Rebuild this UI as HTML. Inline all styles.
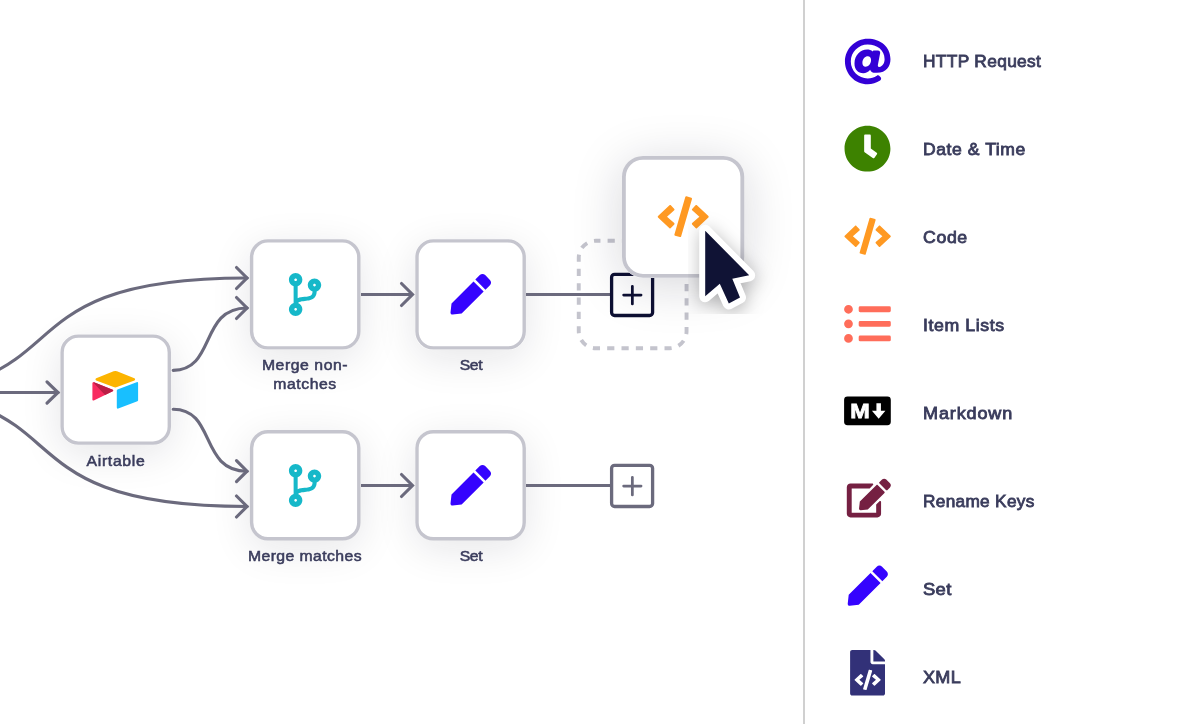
<!DOCTYPE html>
<html lang="en">
<head>
<meta charset="utf-8">
<title>Workflow</title>
<style>
  html,body{margin:0;padding:0;}
  body{width:1200px;height:724px;position:relative;overflow:hidden;background:#fff;
    font-family:"Liberation Sans",sans-serif;color:#3a3c5c;}
  .abs{position:absolute;}
  .node{position:absolute;box-sizing:border-box;width:110.600px;height:110.400px;
    border-radius:18px;background:#fff;box-shadow:0 9px 40px rgba(20,20,40,0.105);}
  .node.big{width:122.200px;height:121.800px;border-radius:21px;box-shadow:0 7px 50px rgba(20,20,40,0.17);}
  .lbl{will-change:transform;position:absolute;font-size:14px;line-height:19px;text-align:center;white-space:nowrap;
    -webkit-text-stroke:0.520px #3a3c5c;letter-spacing:0.200px;transform:scaleX(1.125);transform-origin:50% 50%;}
  .item{will-change:transform;position:absolute;left:923px;font-size:16.400px;line-height:22px;white-space:nowrap;
    -webkit-text-stroke:0.800px #3a3c5c;letter-spacing:0.300px;transform-origin:0 50%;}
  svg{position:absolute;left:0;top:0;overflow:visible;}
  .divider{position:absolute;left:803px;top:0;width:2px;height:724px;background:#d0d0d0;}
</style>
</head>
<body>
<div class="divider"></div>

<!-- nodes -->
<div class="node" style="left:60.4px;top:334.4px"></div>
<div class="node" style="left:249.9px;top:239.2px"></div>
<div class="node" style="left:415.3px;top:239.2px"></div>
<div class="node" style="left:249.9px;top:430.1px"></div>
<div class="node" style="left:415.3px;top:430.1px"></div>
<svg width="1200" height="724" viewBox="0 0 1200 724" fill="none" stroke="#c5c5ce" stroke-width="3.400">
  <rect x="62.1" y="336.1" width="107.200" height="107" rx="16.300"/>
  <rect x="251.6" y="240.9" width="107.200" height="107" rx="16.300"/>
  <rect x="417.0" y="240.9" width="107.200" height="107" rx="16.300"/>
  <rect x="251.6" y="431.8" width="107.200" height="107" rx="16.300"/>
  <rect x="417.0" y="431.8" width="107.200" height="107" rx="16.300"/>
</svg>

<svg width="1200" height="724" viewBox="0 0 1200 724" fill="none">
  <rect x="577" y="239" width="111.300" height="111" rx="18.750" fill="#fff"/>
  <rect x="578.750" y="240.750" width="107.800" height="107.500" rx="17" stroke="#c4c4cd" stroke-width="3.900" stroke-dasharray="7.200 7.136" stroke-dashoffset="2.500"/>
</svg>

<!-- connectors -->
<svg width="1200" height="724" viewBox="0 0 1200 724" fill="none" stroke="#6b6a7d" stroke-width="3.150" stroke-linecap="round" stroke-linejoin="miter">
  <path d="M-122.200 392.500 C 91.200 392.500 -14 278 247 278"/>
  <path d="M236.500 267.500 L247 278 L236.500 288.500"/>
  <path d="M173.200 370.300 C 216 370.300 199.400 308 247 308"/>
  <path d="M236.500 297.500 L247 308 L236.500 318.500"/>
  <path d="M-10 392.500 L58 392.500"/>
  <path d="M47 381.800 L58 392.500 L47 403.200"/>
  <path d="M173.200 409.200 C 216 409.200 199.400 471.200 247 471.200"/>
  <path d="M236.500 460.700 L247 471.200 L236.500 481.700"/>
  <path d="M-122.200 392.500 C 91.200 392.500 -14 506.500 247 506.500"/>
  <path d="M236.500 496 L247 506.500 L236.500 517"/>
  <path d="M361 294.500 L412.500 294.500" stroke-linecap="butt"/>
  <path d="M401.500 283.500 L412.500 294.500 L401.500 305.500"/>
  <path d="M361 485.500 L412.500 485.500" stroke-linecap="butt"/>
  <path d="M401.500 474.500 L412.500 485.500 L401.500 496.500"/>
  <path d="M526 294.500 L611 294.500" stroke-linecap="butt"/>
  <path d="M526 485.500 L611 485.500" stroke-linecap="butt"/>
</svg>

<!-- placeholder + plus boxes -->
<svg width="1200" height="724" viewBox="0 0 1200 724" fill="none">
  <rect x="611.600" y="274.300" width="41" height="41.200" rx="3" stroke="#0e1033" stroke-width="3.300" fill="none"/>
  <path d="M623.650 295.100 H641.050 M632.350 286.300 V303.900" stroke="#0e1033" stroke-width="2.750" stroke-linecap="round"/>
  <rect x="611.600" y="465.300" width="41" height="41.200" rx="3" stroke="#6b6a7d" stroke-width="3.300" fill="none"/>
  <path d="M623.650 486.100 H641.050 M632.350 477.300 V494.900" stroke="#6b6a7d" stroke-width="2.750" stroke-linecap="round"/>
</svg>

<div class="node big" style="left:622px;top:155.900px"></div>
<svg width="1200" height="724" viewBox="0 0 1200 724" fill="none" stroke="#c5c5ce" stroke-width="3.800">
  <rect x="623.900" y="157.800" width="118.400" height="118" rx="19.100"/>
</svg>

<div class="abs" style="left:805px;top:0;width:395px;height:724px;background:#fff"></div>

<!-- labels -->
<div class="lbl" style="left:65.800px;top:451.500px;width:100px;letter-spacing:0.6px">Airtable</div>
<div class="lbl" style="left:245.300px;top:356.400px;width:120px;letter-spacing:0.5px">Merge non-<br>matches</div>
<div class="lbl" style="left:421px;top:356.400px;width:100px;letter-spacing:-0.3px">Set</div>
<div class="lbl" style="left:235.200px;top:547.400px;width:140px;letter-spacing:0.38px">Merge matches</div>
<div class="lbl" style="left:421px;top:547.400px;width:100px;letter-spacing:-0.3px">Set</div>

<div class="item" style="top:50.4px;transform:scaleX(1.058);letter-spacing:0.3px">HTTP Request</div>
<div class="item" style="top:138.4px;transform:scaleX(1.07);letter-spacing:0.54px">Date &amp; Time</div>
<div class="item" style="top:226.4px;transform:scaleX(1.08);letter-spacing:0.58px">Code</div>
<div class="item" style="top:314.4px;transform:scaleX(1.08);letter-spacing:0.55px">Item Lists</div>
<div class="item" style="top:402.4px;transform:scaleX(1.1);letter-spacing:0.79px">Markdown</div>
<div class="item" style="top:490.4px;transform:scaleX(1.051);letter-spacing:0.3px">Rename Keys</div>
<div class="item" style="top:578.4px;transform:scaleX(1.12);letter-spacing:0.3px">Set</div>
<div class="item" style="top:666.4px;transform:scaleX(1.1);letter-spacing:0.3px">XML</div>

<!-- ICONS -->
<svg id="icons" style="will-change:transform" width="1200" height="724" viewBox="0 0 1200 724">
  <!-- canvas node icons -->
  <path transform="translate(288.900 273) scale(0.0842)" fill="#16b8c9" d="M384 144c0-44.200-35.800-80-80-80s-80 35.800-80 80c0 36.400 24.300 67.100 57.500 76.800-.6 16.100-4.200 28.500-11 36.900-15.400 19.200-49.300 22.400-85.200 25.700-28.200 2.600-57.400 5.400-81.300 16.900v-144c32.500-10.200 56-40.500 56-76.300 0-44.200-35.800-80-80-80S0 35.800 0 80c0 35.800 23.500 66.100 56 76.300v199.300C23.500 365.900 0 396.200 0 432c0 44.200 35.800 80 80 80s80-35.800 80-80c0-34-21.200-63.100-51.200-74.600 3.100-5.200 7.800-9.800 14.900-13.400 16.200-8.200 40.400-10.400 66.100-12.800 42.200-3.900 90-8.400 118.200-43.400 14-17.400 21.100-39.800 21.600-67.900 31.600-10.800 54.400-40.700 54.400-75.900zM80 64c8.800 0 16 7.200 16 16s-7.200 16-16 16-16-7.200-16-16 7.200-16 16-16zm0 384c-8.800 0-16-7.200-16-16s7.200-16 16-16 16 7.200 16 16-7.200 16-16 16zm224-320c8.800 0 16 7.200 16 16s-7.200 16-16 16-16-7.200-16-16 7.200-16 16-16z"/>
  <path transform="translate(288.900 464) scale(0.0842)" fill="#16b8c9" d="M384 144c0-44.200-35.800-80-80-80s-80 35.800-80 80c0 36.400 24.300 67.100 57.500 76.800-.6 16.100-4.200 28.500-11 36.900-15.400 19.200-49.300 22.400-85.200 25.700-28.200 2.600-57.400 5.400-81.300 16.900v-144c32.500-10.200 56-40.500 56-76.300 0-44.200-35.800-80-80-80S0 35.800 0 80c0 35.800 23.500 66.100 56 76.300v199.300C23.500 365.900 0 396.200 0 432c0 44.200 35.800 80 80 80s80-35.800 80-80c0-34-21.200-63.100-51.200-74.600 3.100-5.200 7.800-9.800 14.900-13.400 16.200-8.200 40.400-10.400 66.100-12.800 42.200-3.900 90-8.400 118.200-43.400 14-17.400 21.100-39.800 21.600-67.900 31.600-10.800 54.400-40.700 54.400-75.900zM80 64c8.800 0 16 7.200 16 16s-7.200 16-16 16-16-7.200-16-16 7.200-16 16-16zm0 384c-8.800 0-16-7.200-16-16s7.200-16 16-16 16 7.200 16 16-7.200 16-16 16zm224-320c8.800 0 16 7.200 16 16s-7.200 16-16 16-16-7.200-16-16 7.200-16 16-16z"/>
  <path transform="translate(450.500 274) scale(0.0792)" fill="#3503fe" d="M290.740 93.240l128.020 128.020-277.990 277.990-114.140 12.600C11.350 513.540-1.560 500.620.14 485.340l12.700-114.220 277.900-277.880zm207.200-19.060l-60.110-60.110c-18.750-18.750-49.160-18.750-67.910 0l-56.550 56.550 128.020 128.020 56.550-56.550c18.750-18.760 18.750-49.160 0-67.910z"/>
  <path transform="translate(450.500 465) scale(0.0792)" fill="#3503fe" d="M290.740 93.240l128.020 128.020-277.990 277.990-114.140 12.600C11.350 513.540-1.560 500.620.14 485.340l12.700-114.220 277.900-277.880zm207.200-19.060l-60.110-60.110c-18.750-18.750-49.160-18.750-67.910 0l-56.550 56.550 128.020 128.020 56.550-56.550c18.750-18.760 18.750-49.160 0-67.910z"/>
  <path transform="translate(657.700 196.300) scale(0.0797)" fill="#ff9922" d="M278.900 511.500l-61-17.700c-6.400-1.800-10-8.500-8.200-14.900L346.200 8.700c1.800-6.400 8.500-10 14.900-8.200l61 17.700c6.400 1.800 10 8.500 8.200 14.900L293.800 503.300c-1.900 6.400-8.500 10.100-14.900 8.200zm-114-112.200l43.500-46.400c4.600-4.900 4.300-12.700-.8-17.200L117 256l90.600-79.700c5.100-4.500 5.500-12.300.8-17.200l-43.500-46.400c-4.500-4.800-12.100-5.100-17-.5L3.800 247.200c-5.100 4.700-5.100 12.800 0 17.500l144.100 135.100c4.900 4.600 12.500 4.400 17-.5zm327.200.6l144.100-135.100c5.100-4.700 5.100-12.800 0-17.500L492.100 112.100c-4.800-4.500-12.400-4.300-17 .5L431.600 159c-4.600 4.900-4.300 12.700.8 17.200L523 256l-90.600 79.700c-5.100 4.500-5.500 12.300-.8 17.200l43.500 46.400c4.500 4.900 12.100 5.100 17 .6z"/>
  <!-- airtable -->
  <g>
    <path d="M113.600 371.300 L96.200 378.200 a1.200 1.200 0 0 0 0 2.200 L113.600 387.100 a4.600 4.600 0 0 0 3.400 0 L134.400 380.400 a1.200 1.200 0 0 0 0 -2.200 L117 371.300 a4.600 4.600 0 0 0 -3.400 0z" fill="#fcb400"/>
    <path d="M116.800 390.600 V407.600 a1.100 1.100 0 0 0 1.500 1 L137.400 401.200 a1.100 1.100 0 0 0 .700 -1 V383.200 a1.100 1.100 0 0 0 -1.500 -1 L117.500 389.600 a1.100 1.100 0 0 0 -.700 1z" fill="#18bfff"/>
    <path d="M112.700 391.300 L93.800 400.400 c-.700 .400 -1.400 -.200 -1.400 -1 V383.300 c0 -.800 .800 -1.400 1.600 -1 L112.700 389.700 a.900 .900 0 0 1 0 1.600z" fill="#f82b60"/>
    <path d="M112.700 391.300 L105 395 L93.300 382.400 a1.200 1.200 0 0 1 .700 -.100 L112.700 389.700 a.900 .900 0 0 1 0 1.600z" fill="#ba1e45"/>
  </g>
  <!-- panel icons -->
  <path transform="translate(844.200 38) scale(0.0918)" fill="#3300d6" d="M256 8C118.941 8 8 118.919 8 256c0 137.059 110.919 248 248 248 48.154 0 95.342-14.140 135.408-40.223 12.005-7.815 14.625-24.288 5.552-35.372l-10.177-12.433c-7.671-9.371-21.179-11.667-31.373-5.129C325.920 429.757 291.314 440 256 440c-101.458 0-184-82.542-184-184S154.542 72 256 72c100.139 0 184 57.619 184 160 0 38.786-21.093 79.742-58.170 83.693-17.349-.454-16.910-12.857-13.476-30.024l23.433-121.110C394.653 149.750 383.308 136 368.225 136h-44.981a13.518 13.518 0 0 0-13.432 11.993l-.010.092c-14.697-17.901-40.448-21.775-59.971-21.775-74.580 0-137.831 62.234-137.831 151.460 0 65.303 36.785 105.870 96 105.870 26.984 0 57.369-15.637 74.991-38.333 9.522 34.104 40.613 34.103 70.710 34.103C462.609 379.410 504 307.798 504 232 504 95.653 394.023 8 256 8zm-21.680 304.430c-22.249 0-36.070-15.623-36.070-40.771 0-44.993 30.779-72.729 58.630-72.729 22.292 0 35.601 15.241 35.601 40.770 0 45.061-33.875 72.730-58.161 72.730z"/>
  <path transform="translate(843.800 125) scale(0.0925)" fill="#3d8200" d="M256 8C119 8 8 119 8 256s111 248 248 248 248-111 248-248S393 8 256 8zm57.100 350.100L224.900 294c-3.100-2.300-4.900-5.900-4.900-9.700V116c0-6.600 5.400-12 12-12h48c6.600 0 12 5.400 12 12v137.700l63.500 46.200c5.400 3.900 6.500 11.400 2.600 16.800l-28.200 38.800c-3.900 5.300-11.400 6.500-16.800 2.600z"/>
  <path transform="translate(844.400 217.700) scale(0.0726)" fill="#ff9922" d="M278.900 511.500l-61-17.700c-6.400-1.800-10-8.500-8.200-14.900L346.200 8.700c1.800-6.400 8.500-10 14.900-8.200l61 17.700c6.400 1.800 10 8.500 8.200 14.900L293.800 503.300c-1.900 6.400-8.500 10.100-14.900 8.200zm-114-112.200l43.500-46.400c4.600-4.900 4.300-12.700-.8-17.200L117 256l90.600-79.700c5.100-4.500 5.500-12.300.8-17.200l-43.500-46.400c-4.500-4.800-12.100-5.100-17-.5L3.800 247.200c-5.100 4.700-5.100 12.800 0 17.500l144.100 135.100c4.900 4.600 12.500 4.400 17-.5zm327.200.6l144.100-135.100c5.100-4.700 5.100-12.800 0-17.500L492.100 112.100c-4.800-4.500-12.400-4.300-17 .5L431.600 159c-4.600 4.900-4.300 12.700.8 17.200L523 256l-90.600 79.700c-5.100 4.500-5.500 12.300-.8 17.200l43.500 46.400c4.500 4.900 12.100 5.100 17 .6z"/>
  <path transform="translate(844.100 300.500) scale(0.0912)" fill="#ff6d5a" d="M48 48a48 48 0 1 0 48 48 48 48 0 0 0-48-48zm0 160a48 48 0 1 0 48 48 48 48 0 0 0-48-48zm0 160a48 48 0 1 0 48 48 48 48 0 0 0-48-48zm448 16H176a16 16 0 0 0-16 16v32a16 16 0 0 0 16 16h320a16 16 0 0 0 16-16v-32a16 16 0 0 0-16-16zm0-320H176a16 16 0 0 0-16 16v32a16 16 0 0 0 16 16h320a16 16 0 0 0 16-16V80a16 16 0 0 0-16-16zm0 160H176a16 16 0 0 0-16 16v32a16 16 0 0 0 16 16h320a16 16 0 0 0 16-16v-32a16 16 0 0 0-16-16z"/>
  <!-- markdown -->
  <g>
    <rect x="844.100" y="396.500" width="46.700" height="28.700" rx="3.400" fill="#000"/>
    <text x="859.950" y="418.100" text-anchor="middle" font-family="Liberation Sans, sans-serif" font-weight="700" font-size="19.800" fill="#fff" stroke="#fff" stroke-width="0.800" textLength="19.500" lengthAdjust="spacingAndGlyphs">M</text>
    <path transform="translate(844.100 396.500) scale(0.2245)" d="M184 64h-20V30h-20v34h-20l30 35z" fill="#fff"/>
  </g>
  <path transform="translate(846.800 478.700) scale(0.0765 0.0758)" fill="#752042" d="M402.600 83.200l90.200 90.200c3.800 3.800 3.800 10 0 13.800L274.400 405.600l-92.800 10.300c-12.400 1.400-22.900-9.100-21.500-21.500l10.300-92.800L388.800 83.200c3.800-3.800 10-3.800 13.800 0zm162-22.900l-48.800-48.800c-15.200-15.200-39.900-15.200-55.200 0l-35.400 35.400c-3.800 3.800-3.800 10 0 13.800l90.200 90.200c3.800 3.800 10 3.800 13.800 0l35.400-35.400c15.200-15.300 15.200-40 0-55.200zM384 346.200V448H64V128h229.800c3.200 0 6.200-1.300 8.500-3.500l40-40c7.600-7.600 2.200-20.500-8.500-20.500H48C21.500 64 0 85.500 0 112v352c0 26.500 21.500 48 48 48h352c26.500 0 48-21.500 48-48V306.200c0-10.700-12.900-16-20.500-8.500l-40 40c-2.200 2.300-3.500 5.300-3.500 8.500z"/>
  <path transform="translate(847.700 565.600) scale(0.0785)" fill="#3503fe" d="M290.740 93.240l128.020 128.020-277.990 277.990-114.140 12.600C11.350 513.540-1.560 500.620.14 485.340l12.700-114.220 277.900-277.880zm207.200-19.060l-60.110-60.110c-18.750-18.750-49.160-18.750-67.910 0l-56.550 56.550 128.020 128.020 56.550-56.550c18.750-18.760 18.750-49.160 0-67.910z"/>
  <path transform="translate(850.100 650) scale(0.0909 0.0889)" fill="#323178" d="M384 121.941V128H256V0h6.059c6.365 0 12.470 2.529 16.971 7.029l97.941 97.941A24.005 24.005 0 0 1 384 121.941zM248 160c-13.200 0-24-10.800-24-24V0H24C10.745 0 0 10.745 0 24v464c0 13.255 10.745 24 24 24h336c13.255 0 24-10.745 24-24V160H248zM123.206 400.505a5.400 5.400 0 0 1-7.633.246l-64.866-60.812a5.400 5.400 0 0 1 0-7.879l64.866-60.812a5.400 5.400 0 0 1 7.633.246l19.579 20.885a5.400 5.400 0 0 1-.372 7.747L101.650 336l40.763 35.874a5.400 5.400 0 0 1 .372 7.747l-19.579 20.884zm51.295 50.479l-27.453-7.970a5.402 5.402 0 0 1-3.681-6.692l61.440-211.626a5.402 5.402 0 0 1 6.692-3.681l27.452 7.970a5.400 5.400 0 0 1 3.680 6.692l-61.440 211.626a5.397 5.397 0 0 1-6.690 3.681zm160.792-111.045l-64.866 60.812a5.400 5.400 0 0 1-7.633-.246l-19.580-20.885a5.400 5.400 0 0 1 .372-7.747L284.350 336l-40.763-35.874a5.400 5.400 0 0 1-.372-7.747l19.580-20.885a5.400 5.400 0 0 1 7.633-.246l64.866 60.812a5.400 5.400 0 0 1-.001 7.879z"/>
</svg>
<svg style="left:688px;top:210px;overflow:hidden" width="112" height="103.700" viewBox="688 210 112 103.700">
  <g style="filter:drop-shadow(1px 4px 9px rgba(0,0,0,0.28))">
    <path d="M705.200 230.700 L749.200 275.300 L732.300 278.800 L740 297.500 L728.800 303.500 L719.800 283.800 L705.200 296.300 Z" fill="#fff" stroke="#fff" stroke-width="12" stroke-linejoin="round"/>
  </g>
  <path d="M705.200 230.700 L749.200 275.300 L732.300 278.800 L740 297.500 L728.800 303.500 L719.800 283.800 L705.200 296.300 Z" fill="#101335"/>
</svg>
</body>
</html>
